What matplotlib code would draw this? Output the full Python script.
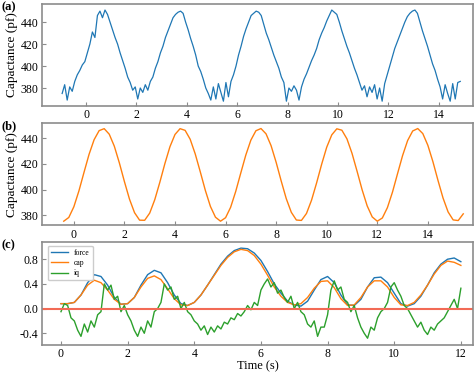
import numpy as np
import matplotlib
matplotlib.use("Agg")
import matplotlib.pyplot as plt

plt.rcParams['font.family'] = ['Liberation Serif', 'DejaVu Serif']
plt.rcParams['axes.unicode_minus'] = False

# (a) raw capacitance, sampled every 0.1 s from -0.95 s
t_a_start = -0.95
cap_raw = [375, 383, 369, 381, 377, 386, 392, 396, 401, 404,
           412, 420, 431, 426, 446, 450, 444, 451, 447, 440,
           433, 426, 420, 412, 405, 398, 390, 385, 378, 381,
           370, 380, 376, 383, 378, 386, 390, 398, 404, 412,
           418, 426, 432, 438, 444, 447, 449, 450, 448, 440,
           433, 425, 418, 410, 400, 395, 388, 380, 375, 369,
           381, 370, 384, 376, 368, 385, 372, 386, 392, 400,
           410, 418, 427, 434, 440, 446, 448, 450, 449, 446,
           438, 430, 424, 417, 410, 404, 398, 390, 385, 368,
           380, 377, 382, 378, 369, 381, 388, 393, 399, 405,
           410, 416, 424, 430, 435, 441, 446, 451, 449, 447,
           440, 432, 425, 418, 412, 405, 398, 392, 385, 378,
           382, 372, 381, 376, 383, 370, 380, 368, 384, 392,
           400, 408, 416, 422, 428, 434, 440, 445, 448, 450,
           451, 448, 440, 432, 425, 418, 410, 402, 396, 388,
           381, 370, 383, 375, 368, 384, 370, 385, 386]

# (b) fitted capacitance, every 0.2 s from -0.4 s
t_b_start = -0.4
cap_fit = [375.5, 378.4, 386.7, 399.0, 413.3, 427.3, 438.7, 445.8, 447.3, 443.0,
           433.7, 420.7, 406.2, 392.6, 382.1, 376.3, 376.2, 381.8, 392.2, 405.7,
           420.2, 433.3, 442.8, 447.3, 446.0, 439.1, 427.7, 413.8, 399.4, 387.0,
           378.6, 375.5, 378.2, 386.3, 398.5, 412.8, 426.8, 438.4, 445.7, 447.4,
           443.3, 434.1, 421.2, 406.7, 393.0, 382.4, 376.4, 376.1, 381.5, 391.8,
           405.2, 419.7, 432.9, 442.5, 447.2, 446.1, 439.4, 428.2, 414.3, 399.9,
           387.4, 378.8, 375.5, 378.0, 386.0, 398.0, 412.3, 426.4, 438.1, 445.5,
           447.4, 443.5, 434.4, 421.7, 407.2, 393.5, 382.7, 376.5, 376.0, 381.2]

# (c) normalised signals
force = [0.08, 0.08, 0.10, 0.22, 0.42, 0.55, 0.52, 0.38, 0.18, 0.07,
         0.08, 0.18, 0.38, 0.55, 0.62, 0.58, 0.42, 0.22, 0.08, 0.05,
         0.10, 0.22, 0.38, 0.55, 0.72, 0.85, 0.94, 0.98, 0.97, 0.90,
         0.78, 0.60, 0.40, 0.25, 0.12, 0.06, 0.04, 0.12, 0.30, 0.47,
         0.52, 0.42, 0.22, 0.06, 0.05, 0.15, 0.35, 0.50, 0.51, 0.42,
         0.25, 0.08, 0.04, 0.08, 0.20, 0.38, 0.58, 0.72, 0.80, 0.82, 0.76]
cap = [0.08, 0.08, 0.10, 0.22, 0.38, 0.46, 0.42, 0.30, 0.15, 0.07,
       0.08, 0.18, 0.35, 0.49, 0.53, 0.47, 0.32, 0.16, 0.06, 0.05,
       0.10, 0.22, 0.38, 0.54, 0.70, 0.83, 0.92, 0.96, 0.94, 0.86,
       0.72, 0.54, 0.35, 0.20, 0.10, 0.06, 0.08, 0.18, 0.33, 0.44,
       0.45, 0.34, 0.16, 0.05, 0.06, 0.18, 0.35, 0.45, 0.45, 0.35,
       0.18, 0.06, 0.05, 0.10, 0.22, 0.38, 0.56, 0.70, 0.77, 0.75, 0.70]
iq = [-0.05, 0.08, 0.05, -0.15, -0.20, -0.35, -0.45, -0.25, -0.38, -0.20,
      -0.30, -0.10, -0.05, 0.40, 0.30, 0.38, 0.15, 0.20, -0.05, 0.05,
      -0.10, -0.20, -0.35, -0.45, -0.30, -0.40, -0.20, -0.30, -0.05, 0.00,
      0.10, 0.40, 0.30, 0.35, 0.15, 0.20, 0.00, 0.10, -0.05, -0.10,
      -0.20, -0.25, -0.35, -0.28, -0.42, -0.30, -0.38, -0.28, -0.33, -0.22,
      -0.25, -0.15, -0.18, -0.08, -0.12, -0.05, 0.05, -0.02, 0.10, 0.05,
      0.30, 0.40, 0.48, 0.35, 0.42, 0.25, 0.30, 0.18, 0.10, 0.20,
      0.00, 0.10, -0.05, -0.10, -0.25, -0.30, -0.20, -0.45, -0.30, -0.30,
      -0.10, 0.30, 0.45, 0.30, 0.35, 0.15, 0.10, -0.05, 0.05, -0.15,
      -0.30, -0.40, -0.48, -0.30, -0.35, -0.15, -0.05, 0.00, 0.10, 0.35,
      0.42, 0.30, 0.20, 0.05, 0.00, -0.10, -0.20, -0.30, -0.22, -0.35,
      -0.42, -0.30, -0.35, -0.25, -0.20, -0.15, -0.05, 0.05, 0.15, 0.00, 0.33]

t_a = t_a_start + 0.1 * np.arange(len(cap_raw))
t_b = t_b_start + 0.2 * np.arange(len(cap_fit))
t_c = 0.2 * np.arange(len(force))
t_iq = 0.1 * np.arange(len(iq))

fig = plt.figure(figsize=(4.74, 3.72), dpi=100)
frame = '#8c8c8c'

def style(ax):
    for s in ax.spines.values():
        s.set_color(frame)
        s.set_linewidth(1.2)
    ax.tick_params(direction='in', length=3, color=frame, labelsize=8.5, pad=2.5)

ax1 = fig.add_axes([0.0886, 0.715, 0.909, 0.274])
ax1.plot(t_a, cap_raw, color='#1f77b4', lw=0.9)
ax1.set_xlim(-1.75, 15.35)
ax1.set_ylim(363.6, 456.4)
ax1.set_xticks(range(0, 15, 2))
ax1.set_yticks([380, 400, 420, 440])
ax1.set_ylabel('Capactance (pf)', fontsize=9.5, labelpad=2)
style(ax1)

ax2 = fig.add_axes([0.0886, 0.395, 0.909, 0.274])
ax2.plot(t_b, cap_fit, color='#ff7f0e', lw=1.0)
ax2.set_xlim(-1.26, 15.78)
ax2.set_ylim(372.5, 451.6)
ax2.set_xticks(range(0, 15, 2))
ax2.set_yticks([380, 400, 420, 440])
ax2.set_ylabel('Capactance (pf)', fontsize=9.5, labelpad=2)
style(ax2)

ax3 = fig.add_axes([0.0886, 0.0726, 0.909, 0.277])
ax3.plot(t_c, force, color='#1f77b4', lw=1.0, label='force')
ax3.plot(t_c, cap, color='#ff7f0e', lw=1.0, label='cap')
ax3.plot(t_iq, iq, color='#2ca02c', lw=1.0, label='iq')
ax3.axhline(0, color='#f26a55', lw=1.5)
ax3.set_xlim(-0.57, 12.36)
ax3.set_ylim(-0.59, 1.08)
ax3.set_xticks(range(0, 13, 2))
ax3.set_yticks([-0.4, 0.0, 0.4, 0.8])
ax3.set_yticklabels(['-0.4', '0.0', '0.4', '0.8'])
ax3.set_xlabel('Time (s)', fontsize=9, labelpad=0)
style(ax3)
ax3.legend(loc='upper left', fontsize=5.5, handlelength=2.2, labelspacing=0.3,
           borderpad=0.4, framealpha=1, edgecolor='#cccccc',
           bbox_to_anchor=(0.005, 1.0))

for lab, y in [('(a)', 0.997), ('(b)', 0.677), ('(c)', 0.357)]:
    fig.text(0.003, y, lab, fontsize=9, fontweight='bold', va='top', ha='left')

fig.savefig('out.png', dpi=100)
